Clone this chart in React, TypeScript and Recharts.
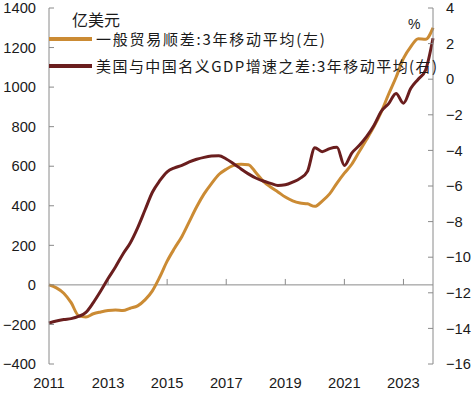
import React from "react";
import { LineChart, Line, XAxis, YAxis, ReferenceLine } from "recharts";

// quarterly points, year as decimal
const dates = [
  2011, 2011.25, 2011.5, 2011.75,
  2012, 2012.25, 2012.5, 2012.75,
  2013, 2013.25, 2013.5, 2013.75,
  2014, 2014.25, 2014.5, 2014.75,
  2015, 2015.25, 2015.5, 2015.75,
  2016, 2016.25, 2016.5, 2016.75,
  2017, 2017.25, 2017.5, 2017.75,
  2018, 2018.25, 2018.5, 2018.75,
  2019, 2019.25, 2019.5, 2019.75,
  2020, 2020.25, 2020.5, 2020.75,
  2021, 2021.25, 2021.5, 2021.75,
  2022, 2022.25, 2022.5, 2022.75,
  2023, 2023.25, 2023.5, 2023.75,
  2024,
];

// 一般贸易顺差:3年移动平均, 亿美元 (left axis)
const tradeSurplus = [
  0, -15, -42, -90,
  -155, -162, -146, -137,
  -130, -127, -130, -118,
  -106, -76, -30, 40,
  120, 185, 245, 320,
  395, 460, 512, 558,
  585, 604, 610, 608,
  568, 525, 495, 470,
  444, 425, 414, 410,
  397, 424, 460, 515,
  565, 610, 673, 735,
  800, 875, 965, 1050,
  1145, 1205, 1245, 1242,
  1300,
];

// 美国与中国名义GDP增速之差:3年移动平均, % (right axis)
const gdpGap = [
  -13.7, -13.58, -13.5, -13.45,
  -13.33, -13.1, -12.55, -11.9,
  -11.2, -10.55, -9.83, -9.2,
  -8.35, -7.35, -6.35, -5.7,
  -5.2, -4.98, -4.84, -4.65,
  -4.5, -4.39, -4.32, -4.3,
  -4.48, -4.75, -5.04, -5.32,
  -5.55, -5.72, -5.85, -5.97,
  -5.93, -5.78, -5.57, -5.18,
  -3.85, -4.07, -3.9, -3.83,
  -4.85, -4.15, -3.73, -3.23,
  -2.6, -1.8, -1.37, -0.8,
  -1.35, -0.51, 0.0, 0.52,
  2.3,
];

const yearTicks = [2011, 2013, 2015, 2017, 2019, 2021, 2023];
const leftTicks = [-400, -200, 0, 200, 400, 600, 800, 1000, 1200, 1400];
const rightTicks = [-16, -14, -12, -10, -8, -6, -4, -2, 0, 2, 4];

const ORANGE = "#CB8B34";
const MAROON = "#6A1E1E";
const AXIS = "#8a8a8a";
const TICK_FONT = "'Liberation Sans', Arial, sans-serif";
const CJK_FONT = "'Noto Sans CJK SC', 'Liberation Sans', sans-serif";

const data = dates.map((d, i) => ({
  date: d,
  trade: tradeSurplus[i],
  gap: gdpGap[i],
}));

const minus = (v: number) => String(v).replace("-", "\u2212");

const tickStyle = { fill: "#1a1a1a", fontSize: 14.7, fontFamily: TICK_FONT };

const legendItems = [
  { label: "一般贸易顺差:3年移动平均(左)", color: ORANGE, top: 29, spacing: 1.75 },
  { label: "美国与中国名义GDP增速之差:3年移动平均(右)", color: MAROON, top: 56, spacing: 1.45 },
];

export default function App() {
  return (
    <div
      style={{
        position: "absolute",
        left: 0,
        top: 0,
        width: 475,
        height: 394,
        background: "#fff",
      }}
    >
      <LineChart
        width={475}
        height={394}
        data={data}
        margin={{ top: 8, right: 0, bottom: 0, left: 0 }}
      >
        <XAxis
          dataKey="date"
          type="number"
          domain={[2011, 2024]}
          ticks={yearTicks}
          axisLine={false}
          tickLine={false}
          height={30}
          tickMargin={8}
          tick={tickStyle}
        />
        <YAxis
          yAxisId="left"
          orientation="left"
          width={49}
          domain={[-400, 1400]}
          ticks={leftTicks}
          interval={0}
          axisLine={{ stroke: AXIS }}
          tickLine={{ stroke: AXIS }}
          tickSize={-5}
          tickMargin={18}
          tickFormatter={minus}
          tick={tickStyle}
        />
        <YAxis
          yAxisId="right"
          orientation="right"
          width={42}
          domain={[-16, 4]}
          ticks={rightTicks}
          interval={0}
          axisLine={{ stroke: AXIS }}
          tickLine={{ stroke: AXIS }}
          tickSize={-5}
          tickMargin={18}
          tickFormatter={minus}
          tick={tickStyle}
        />
        <ReferenceLine yAxisId="left" y={0} stroke={AXIS} />
        {yearTicks.slice(1).map((yr) => (
          <ReferenceLine
            key={yr}
            yAxisId="left"
            segment={[
              { x: yr, y: 0 },
              { x: yr, y: 30 },
            ]}
            stroke={AXIS}
          />
        ))}
        <Line
          yAxisId="left"
          dataKey="trade"
          type="monotone"
          stroke={ORANGE}
          strokeWidth={3}
          dot={false}
          isAnimationActive={false}
        />
        <Line
          yAxisId="right"
          dataKey="gap"
          type="monotone"
          stroke={MAROON}
          strokeWidth={3}
          dot={false}
          isAnimationActive={false}
        />
      </LineChart>

      <div
        style={{
          position: "absolute",
          left: 72,
          top: 10,
          fontSize: 16,
          lineHeight: "18px",
          fontFamily: CJK_FONT,
          color: "#1a1a1a",
        }}
      >
        亿美元
      </div>
      <div
        style={{
          position: "absolute",
          left: 408,
          top: 15,
          fontSize: 14,
          lineHeight: "18px",
          fontFamily: TICK_FONT,
          color: "#1a1a1a",
        }}
      >
        %
      </div>
      {legendItems.map((item) => (
        <div
          key={item.label}
          style={{
            position: "absolute",
            left: 49,
            top: item.top,
            height: 20,
            display: "flex",
            alignItems: "center",
            whiteSpace: "nowrap",
          }}
        >
          <span
            style={{
              display: "inline-block",
              width: 43,
              height: 4,
              background: item.color,
            }}
          />
          <span
            style={{
              marginLeft: 4,
              fontSize: 15,
              lineHeight: "20px",
              letterSpacing: item.spacing,
              fontFamily: CJK_FONT,
              color: "#1a1a1a",
            }}
          >
            {item.label}
          </span>
        </div>
      ))}
    </div>
  );
}
